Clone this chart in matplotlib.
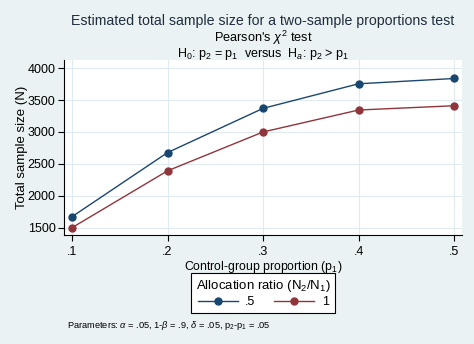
import numpy as np
import matplotlib
matplotlib.use("Agg")
import matplotlib.pyplot as plt

plt.rcParams['font.family'] = ['Liberation Sans', 'DejaVu Sans']
plt.rcParams['mathtext.fontset'] = 'custom'
plt.rcParams['mathtext.rm'] = 'Liberation Sans'
plt.rcParams['mathtext.it'] = 'Liberation Sans:italic'

# data
p1 = [0.1, 0.2, 0.3, 0.4, 0.5]
n_half = [1672, 2677, 3370, 3755, 3838]
n_one = [1500, 2391, 3000, 3344, 3411]
xticks = [0.1, 0.2, 0.3, 0.4, 0.5]
xtick_labels = [".1", ".2", ".3", ".4", ".5"]
yticks = [1500, 2000, 2500, 3000, 3500, 4000]

bg = "#EAF2F3"
navy = "#1A476F"
maroon = "#90353B"

fig = plt.figure(figsize=(4.74, 3.44), dpi=100, facecolor=bg)
ax = fig.add_axes([0.135, 0.317, 0.840, 0.509])
ax.set_facecolor("white")

ax.plot(p1, n_half, color=navy, lw=1.0, marker="o", ms=5, label=".5")
ax.plot(p1, n_one, color=maroon, lw=1.0, marker="o", ms=5, label="1")

ax.set_xlim(0.0916, 0.5084)
ax.set_ylim(1386, 4130)
ax.set_xticks(xticks)
ax.set_xticklabels(xtick_labels)
ax.set_yticks(yticks)
ax.grid(True, color="#E1EAEE", lw=0.8)
ax.set_axisbelow(True)
for s in ["top", "right"]:
    ax.spines[s].set_visible(False)
for s in ["left", "bottom"]:
    ax.spines[s].set_linewidth(0.8)
ax.tick_params(labelsize=9, length=4, width=0.8)
ax.tick_params(axis="x", pad=4)
ax.tick_params(axis="y", pad=2)

ax.set_xlabel("Control-group proportion (p$_1$)", fontsize=8.8, labelpad=1)
ax.set_ylabel("Total sample size (N)", fontsize=9.5, labelpad=0)

fig.text(0.555, 0.940, "Estimated total sample size for a two-sample proportions test",
         ha="center", va="center", fontsize=10.2, color="#1F2D3D")
fig.text(0.555, 0.889, r"Pearson's $\chi^2$ test", ha="center", va="center", fontsize=9.2)
fig.text(0.555, 0.843, r"H$_0$: p$_2$ = p$_1$  versus  H$_a$: p$_2$ > p$_1$",
         ha="center", va="center", fontsize=9)

leg = ax.legend(loc="center", bbox_to_anchor=(0.555, 0.148), bbox_transform=fig.transFigure,
                ncol=2, fontsize=9, title="Allocation ratio (N$_2$/N$_1$)", numpoints=1,
                title_fontsize=9.5, frameon=True, fancybox=False, framealpha=1,
                handlelength=3.2, columnspacing=1.5, borderpad=0.35, handletextpad=0.6,
                labelspacing=0.2)
leg.get_frame().set_edgecolor("black")
leg.get_frame().set_linewidth(0.8)

fig.text(0.141, 0.055, r"Parameters: $\alpha$ = .05, 1-$\beta$ = .9, $\delta$ = .05, p$_2$-p$_1$ = .05",
         ha="left", va="center", fontsize=6.7)

fig.savefig("out.png", dpi=100, facecolor=bg)
